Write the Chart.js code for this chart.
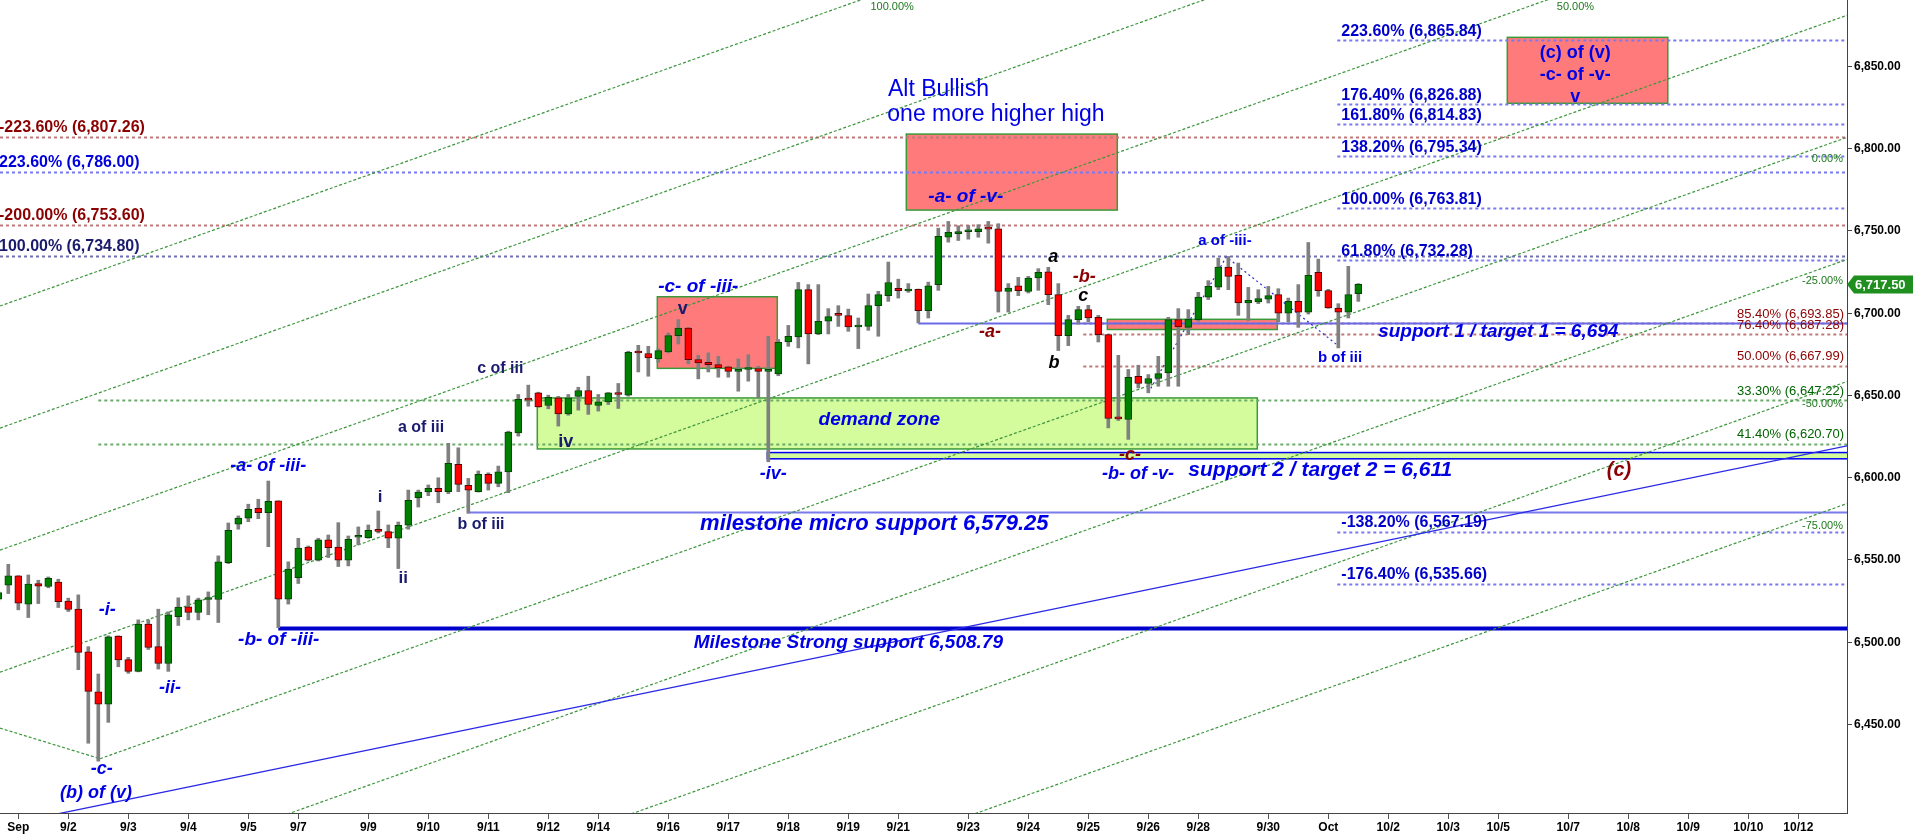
<!DOCTYPE html>
<html><head><meta charset="utf-8">
<script src="https://cdn.jsdelivr.net/npm/chart.js@4.4.1/dist/chart.umd.min.js"></script>
<style>html,body{margin:0;padding:0;background:#fff;overflow:hidden}</style>
</head><body>
<canvas id="c" width="1914" height="837"></canvas>
<script>
// ---------- DATA ----------
const firstBar = -1; // bar index of first candle (4-hour bars)
const opens = [6526.2,6534.7,6540.3,6523.2,6535.7,6533.9,6536.5,6525.0,6520.1,6494.2,6469.9,6462.3,6503.7,6489.4,6482.3,6511.0,6497.3,6487.1,6515.6,6521.5,6518.1,6526.0,6526.0,6548.4,6571.7,6575.4,6581.4,6578.8,6585.9,6526.2,6539.3,6557.9,6549.9,6562.2,6557.9,6549.9,6563.8,6563.6,6568.1,6567.2,6563.2,6571.1,6587.9,6591.3,6593.6,6591.5,6608.1,6595.4,6591.5,6602.1,6596.6,6603.6,6627.3,6647.6,6651.6,6643.9,6648.5,6638.8,6649.4,6653.0,6643.9,6646.1,6651.6,6650.2,6676.3,6675.5,6672.2,6676.5,6686.4,6691.0,6671.8,6670.2,6668.8,6667.4,6664.7,6665.8,6666.4,6664.7,6663.1,6682.5,6685.6,6714.3,6687.4,6695.1,6699.1,6698.5,6691.6,6692.0,6704.6,6710.7,6715.1,6713.5,6714.5,6701.6,6717.4,6746.2,6748.3,6749.5,6749.5,6751.4,6751.3,6713.3,6716.7,6713.3,6721.4,6725.2,6711.3,6686.4,6696.1,6702.2,6697.5,6687.0,6636.2,6635.4,6661.7,6657.3,6660.3,6663.7,6696.1,6691.4,6696.1,6709.8,6715.9,6728.0,6723.0,6706.2,6706.8,6708.6,6711.3,6700.1,6707.2,6700.7,6724.8,6713.7,6703.2,6700.7,6711.9];
const highs = [6531.0,6547.4,6540.5,6540.9,6537.7,6539.7,6538.3,6526.8,6528.8,6497.3,6480.7,6503.9,6503.9,6490.8,6513.6,6513.5,6520.1,6518.5,6527.0,6528.2,6526.8,6530.6,6552.5,6572.5,6576.8,6583.9,6586.9,6598.0,6586.0,6548.9,6563.2,6558.5,6563.2,6565.2,6572.7,6564.6,6570.1,6571.3,6579.8,6571.3,6573.1,6592.5,6592.5,6595.6,6600.0,6620.9,6618.2,6599.6,6604.1,6603.0,6607.1,6628.3,6650.6,6656.3,6652.0,6650.2,6649.5,6650.6,6655.0,6661.7,6650.6,6651.8,6657.3,6676.9,6680.5,6679.9,6678.3,6688.0,6696.1,6691.4,6674.4,6675.9,6673.8,6667.8,6672.2,6674.8,6667.8,6686.0,6684.0,6692.6,6718.7,6717.4,6717.4,6702.8,6704.6,6702.5,6697.1,6711.7,6713.3,6731.1,6720.7,6718.0,6714.7,6718.9,6751.7,6755.8,6753.2,6753.3,6753.8,6755.8,6754.4,6718.0,6721.8,6722.4,6727.1,6727.9,6718.0,6698.7,6704.2,6704.8,6698.7,6687.2,6674.4,6665.8,6668.4,6662.7,6673.8,6697.5,6702.8,6702.2,6712.7,6719.8,6733.5,6734.5,6730.5,6715.7,6714.3,6716.3,6714.9,6709.2,6717.4,6743.0,6732.9,6714.5,6705.8,6728.5,6718.0];
const lows = [6525.0,6529.6,6519.7,6515.0,6523.5,6533.1,6521.1,6518.7,6483.3,6438.6,6427.7,6451.3,6485.1,6481.1,6482.0,6495.6,6483.7,6482.3,6510.2,6513.6,6513.6,6516.7,6512.0,6547.8,6568.7,6573.3,6575.1,6558.1,6508.8,6523.2,6535.7,6549.4,6549.4,6551.5,6546.0,6546.4,6559.2,6563.2,6566.4,6557.5,6544.8,6568.7,6582.2,6589.1,6584.8,6590.3,6591.5,6578.4,6591.3,6592.5,6594.5,6590.9,6625.3,6643.5,6642.8,6641.9,6631.4,6638.0,6641.1,6638.5,6640.5,6644.5,6642.1,6649.6,6664.3,6661.7,6670.2,6675.9,6681.3,6669.2,6660.1,6664.3,6661.1,6661.1,6652.6,6658.7,6648.5,6609.7,6662.0,6679.9,6678.9,6669.2,6687.0,6687.4,6692.0,6689.0,6678.5,6689.6,6686.0,6707.2,6709.2,6712.7,6694.1,6697.1,6713.9,6743.2,6744.2,6745.0,6746.2,6742.6,6700.7,6700.7,6710.7,6712.3,6713.9,6705.2,6677.3,6680.3,6693.4,6694.7,6682.5,6630.3,6634.8,6623.3,6654.6,6651.6,6655.6,6655.6,6655.6,6687.0,6695.1,6708.3,6714.3,6714.3,6698.7,6695.5,6705.8,6706.2,6694.7,6694.7,6691.4,6699.5,6710.3,6703.0,6678.9,6697.1,6707.2];
const closes = [6530.2,6540.3,6523.8,6535.3,6534.1,6538.9,6524.7,6519.9,6493.8,6470.1,6462.3,6503.3,6489.2,6482.3,6511.0,6496.8,6487.1,6516.7,6521.4,6518.1,6525.8,6526.4,6548.9,6568.1,6575.4,6580.8,6578.8,6585.7,6526.2,6544.4,6557.2,6549.9,6562.2,6557.5,6549.9,6562.6,6564.2,6568.1,6567.4,6563.2,6571.1,6586.3,6591.3,6593.6,6591.5,6608.7,6596.0,6592.4,6602.1,6596.6,6603.6,6627.7,6647.6,6647.2,6643.1,6648.9,6638.8,6648.5,6653.0,6644.5,6646.1,6651.6,6650.6,6676.3,6675.8,6672.8,6677.3,6686.4,6691.0,6671.8,6669.8,6668.8,6666.7,6664.7,6665.8,6666.7,6664.7,6664.9,6682.3,6686.0,6714.3,6687.4,6695.1,6697.9,6698.7,6691.6,6692.0,6704.6,6711.3,6718.7,6713.7,6713.9,6701.6,6716.7,6746.7,6749.1,6749.7,6749.8,6751.3,6751.1,6713.3,6715.3,6713.7,6721.4,6724.8,6711.3,6686.4,6696.1,6702.2,6697.1,6687.0,6636.0,6635.8,6661.1,6657.3,6660.3,6663.3,6696.1,6691.6,6696.5,6709.8,6716.3,6728.0,6722.4,6706.2,6707.8,6708.9,6710.7,6700.1,6707.2,6700.7,6723.0,6713.7,6703.2,6700.7,6711.3,6717.5];
const xTickPos = [1,6,12,18,24,29,36,42,48,54,59,66,72,78,84,89,96,102,108,114,119,126,132,138,144,149,156,162,168,174,179];
const xTickLabels = ['Sep','9/2','9/3','9/4','9/5','9/7','9/9','9/10','9/11','9/12','9/14','9/16','9/17','9/18','9/19','9/21','9/23','9/24','9/25','9/26','9/28','9/30','Oct','10/2','10/3','10/5','10/7','10/8','10/9','10/10','10/12'];
const yTickVals = [6450,6500,6550,6600,6650,6700,6750,6800,6850];
const lastPrice = 6717.50;

// Fibonacci / level lines
const leftFibLevels = [6807.26,6786.00,6753.60,6734.80];
const leftFibLabels = ['-223.60% (6,807.26)','223.60% (6,786.00)','-200.00% (6,753.60)','100.00% (6,734.80)'];
const blueFibLevels = [6865.84,6826.88,6814.83,6795.34,6763.81,6732.28,6567.19,6535.66];
const blueFibLabels = ['223.60% (6,865.84)','176.40% (6,826.88)','161.80% (6,814.83)','138.20% (6,795.34)','100.00% (6,763.81)','61.80% (6,732.28)','-138.20% (6,567.19)','-176.40% (6,535.66)'];
const redFibLevels = [6693.85,6687.28,6667.99];
const redFibLabels = ['85.40% (6,693.85)','76.40% (6,687.28)','50.00% (6,667.99)'];
const greenFibLevels = [6647.22,6620.70];
const greenFibLabels = ['33.30% (6,647.22)','41.40% (6,620.70)'];
const supportLevels = [6694, 6579.25, 6508.79];
const pitchforkPct = [100,75,50,25,0,-25,-50,-75];

// ---------- LAYOUT CONSTANTS ----------
const FONT = '"Liberation Sans", Arial, sans-serif';
const xMin = -0.83, xMax = 183.87, yMin = 6396.2, yMax = 6890.4;
const BLUE = '#0000e6', NAVY = '#1a1a6e', DRED = '#8b0000';

const bodyData = [], wickData = [], bodyFill = [], bodyBorder = [];
opens.forEach((o, i) => {
  const k = firstBar + i, c = closes[i];
  bodyData.push({x: k, y: [o, c]});
  wickData.push({x: k, y: [lows[i], highs[i]]});
  const up = c >= o;
  bodyFill.push(up ? '#008000' : '#ff0000');
  bodyBorder.push(up ? '#004400' : '#5a0000');
});

const boxes = [
  {k1:52.9, k2:124.9, v1:6617.5, v2:6648.5, fill:'#d4fc9c', stroke:'#3a9a3a', lw:1.5},
  {k1:75.9, k2:null, v1:6611.5, v2:6615.3, fill:'#d4fc9c', stroke:'#0000ee', lw:1.5},
  {k1:64.9, k2:76.9, v1:6666.5, v2:6710.0, fill:'#ff7b7b', stroke:'#3a9a3a', lw:1.5},
  {k1:89.8, k2:110.9, v1:6762.7, v2:6808.9, fill:'#ff7b7b', stroke:'#3a9a3a', lw:1.5},
  {k1:149.9, k2:165.95, v1:6827.6, v2:6867.7, fill:'#ff7b7b', stroke:'#3a9a3a', lw:1.5},
  {k1:109.9, k2:126.9, v1:6690.1, v2:6696.3, fill:'#ff7b7b', stroke:'#3a9a3a', lw:1.5}
];

const italicB = s => `italic bold ${s}px ${FONT}`;
const bold = s => `bold ${s}px ${FONT}`;
const texts = [
  ['-c-', 9.34, 6422.7, italicB(18), BLUE],
  ['(b) of (v)', 8.77, 6408.1, italicB(18), BLUE],
  ['-i-', 9.9, 6519.6, italicB(18), BLUE],
  ['-ii-', 16.17, 6472.0, italicB(18), BLUE],
  ['-a- of -iii-', 26.0, 6607.1, italicB(18), BLUE],
  ['-b- of -iii-', 27.04, 6501.3, italicB(19), BLUE],
  ['i', 37.17, 6588.1, bold(17), NAVY],
  ['ii', 39.5, 6538.9, bold(17), NAVY],
  ['a of iii', 41.27, 6630.6, bold(16), NAVY],
  ['b of iii', 47.27, 6571.7, bold(16), NAVY],
  ['c of iii', 49.2, 6666.3, bold(16), NAVY],
  ['iv', 55.74, 6621.9, bold(18), NAVY],
  ['v', 67.44, 6702.4, bold(18), NAVY],
  ['-c- of -iii-', 69.0, 6716.1, italicB(19), BLUE],
  ['-iv-', 76.5, 6602.3, italicB(18), BLUE],
  ['-a- of -v-', 95.75, 6770.8, italicB(19), BLUE],
  ['-a-', 98.17, 6688.8, italicB(18), DRED],
  ['a', 104.5, 6734.0, italicB(18), '#000'],
  ['b', 104.57, 6669.5, italicB(18), '#000'],
  ['c', 107.5, 6710.6, italicB(18), '#000'],
  ['-b-', 107.6, 6721.8, italicB(18), DRED],
  ['-c-', 112.17, 6613.8, italicB(18), DRED],
  ['-b- of -v-', 112.97, 6602.3, italicB(18), BLUE],
  ['a of -iii-', 121.67, 6743.9, bold(15), BLUE],
  ['b of iii', 133.17, 6672.6, bold(15), BLUE],
  ['(c)', 161.07, 6604.7, italicB(20), DRED],
  ['demand zone', 87.1, 6635.1, italicB(19), BLUE],
  ['milestone micro support 6,579.25', 86.6, 6571.9, italicB(22), BLUE],
  ['Milestone Strong support 6,508.79', 84.0, 6499.5, italicB(19), BLUE],
  ['support 1 / target 1 = 6,694', 149.0, 6688.8, italicB(19), BLUE],
  ['support 2 / target 2 = 6,611', 131.2, 6604.7, italicB(21), BLUE],
  ['(c) of (v)', 156.7, 6858.0, bold(18), BLUE],
  ['-c- of -v-', 156.7, 6844.8, bold(18), BLUE],
  ['v', 156.7, 6831.6, bold(18), BLUE]
];

const annot = {
  id: 'annot',
  beforeDatasetsDraw(chart) {
    const {ctx, chartArea: a, scales: {x, y}} = chart;
    const X = v => x.getPixelForValue(v), Y = v => y.getPixelForValue(v);
    ctx.save();
    ctx.beginPath(); ctx.rect(a.left, a.top, a.right - a.left, a.bottom - a.top); ctx.clip();
    boxes.forEach(b => {
      const x1 = X(b.k1), x2 = b.k2 == null ? a.right + 2 : X(b.k2);
      const y1 = Y(b.v2), y2 = Y(b.v1);
      ctx.fillStyle = b.fill; ctx.fillRect(x1, y1, x2 - x1, y2 - y1);
      ctx.strokeStyle = b.stroke; ctx.lineWidth = b.lw; ctx.strokeRect(x1, y1, x2 - x1, y2 - y1);
    });
    const hline = (v, k1, color, lw, dash) => {
      ctx.beginPath(); ctx.setLineDash(dash); ctx.strokeStyle = color; ctx.lineWidth = lw;
      const yy = Math.round(Y(v)) + 0.5;
      ctx.moveTo(k1 == null ? a.left : X(k1), yy); ctx.lineTo(a.right, yy); ctx.stroke();
    };
    const leftCols = ['#c07878','#7878f0','#c07878','#7070b0'];
    leftFibLevels.forEach((v, i) => hline(v, null, leftCols[i], 2, [3,3]));
    blueFibLevels.forEach(v => hline(v, 132.9, '#7878f0', 2, [3,3]));
    redFibLevels.forEach(v => hline(v, 107.5, '#c07878', 2, [3,3]));
    greenFibLevels.forEach(v => hline(v, 9, '#6aaa6a', 2, [3,3]));
    hline(supportLevels[0], 91, '#6a6ae8', 2, []);
    hline(supportLevels[1], 46, '#7a7aec', 2, []);
    hline(supportLevels[2], 27, '#0000cc', 4, []);
    // pitchfork (median from -c- pivot)
    const pk = 9.17, pv = 6429.2, slope = 2.162, step = 74.2;
    ctx.setLineDash([3,2]); ctx.strokeStyle = '#3c963c'; ctx.lineWidth = 1.2;
    pitchforkPct.forEach(p => {
      const off = p / 25 * step;
      const k0 = p === 0 ? pk : xMin;
      ctx.beginPath();
      ctx.moveTo(X(k0), Y(pv + off + slope * (k0 - pk)));
      ctx.lineTo(X(xMax), Y(pv + off + slope * (xMax - pk)));
      ctx.stroke();
    });
    ctx.beginPath(); ctx.moveTo(X(xMin), Y(6447.8)); ctx.lineTo(X(pk), Y(pv)); ctx.stroke();
    // blue trend line
    ctx.setLineDash([]); ctx.strokeStyle = '#2a2ae6'; ctx.lineWidth = 1.3;
    ctx.beginPath(); ctx.moveTo(X(0), Y(6551.0 - 1.25 * 129.2)); ctx.lineTo(X(xMax), Y(6551.0 + 1.25 * (xMax - 129.2))); ctx.stroke();
    // wave connector (dotted)
    ctx.setLineDash([2,3]); ctx.strokeStyle = '#2a2ae6'; ctx.lineWidth = 1.2;
    ctx.beginPath(); ctx.moveTo(X(114), Y(6651.7)); ctx.lineTo(X(121.8), Y(6734.3)); ctx.lineTo(X(133), Y(6680.2)); ctx.stroke();
    ctx.restore();
  },
  afterDatasetsDraw(chart) {
    const {ctx, chartArea: a, scales: {x, y}} = chart;
    const X = v => x.getPixelForValue(v), Y = v => y.getPixelForValue(v);
    ctx.save();
    ctx.beginPath(); ctx.rect(a.left, a.top, a.right - a.left, a.bottom - a.top); ctx.clip();
    ctx.textBaseline = 'middle';
    const leftTxt = [DRED, '#0000dd', DRED, NAVY];
    ctx.font = bold(16); ctx.textAlign = 'left';
    leftFibLevels.forEach((v, i) => { ctx.fillStyle = leftTxt[i]; ctx.fillText(leftFibLabels[i], -1, Y(v) - 9); });
    ctx.fillStyle = '#0000cc';
    blueFibLevels.forEach((v, i) => ctx.fillText(blueFibLabels[i], X(133.3), Y(v) - 9));
    ctx.font = `13px ${FONT}`; ctx.textAlign = 'right';
    ctx.fillStyle = DRED;
    redFibLevels.forEach((v, i) => ctx.fillText(redFibLabels[i], a.right - 3, Y(v) - 9));
    ctx.fillStyle = '#006400';
    greenFibLevels.forEach((v, i) => ctx.fillText(greenFibLabels[i], a.right - 3, Y(v) - 9));
    const pk = 9.17, pv = 6429.2, slope = 2.162, step = 74.2;
    ctx.font = `11px ${FONT}`; ctx.fillStyle = '#1e781e';
    pitchforkPct.forEach(p => {
      const off = p / 25 * step;
      const lab = p.toFixed(2) + '%';
      if (p === 100 || p === 50) {
        const kt = pk + (yMax - pv - off) / slope;
        ctx.textAlign = 'left'; ctx.fillText(lab, X(kt) + 10, a.top + 7);
      } else if (p <= 0) {
        const ye = Y(pv + off + slope * (xMax - pk));
        ctx.textAlign = 'right'; ctx.fillText(lab, a.right - 4, ye + 22);
      }
    });
    ctx.textAlign = 'center';
    texts.forEach(t => { ctx.font = t[3]; ctx.fillStyle = t[4]; ctx.fillText(t[0], X(t[1]), Y(t[2])); });
    ctx.font = `23px ${FONT}`; ctx.fillStyle = BLUE; ctx.textAlign = 'left';
    ctx.fillText('Alt Bullish', X(87.97), Y(6835.7));
    ctx.fillText('one more higher high', X(87.9), Y(6820.8));
    ctx.restore();
  },
  afterDraw(chart) {
    const {ctx, chartArea: a, scales: {y}} = chart;
    const yy = y.getPixelForValue(lastPrice);
    ctx.save();
    ctx.fillStyle = '#1f8f1f';
    ctx.beginPath();
    ctx.moveTo(a.right, yy); ctx.lineTo(a.right + 7, yy - 9); ctx.lineTo(1913, yy - 9);
    ctx.lineTo(1913, yy + 9); ctx.lineTo(a.right + 7, yy + 9); ctx.closePath(); ctx.fill();
    ctx.fillStyle = '#fff'; ctx.font = bold(13); ctx.textAlign = 'left'; ctx.textBaseline = 'middle';
    ctx.fillText(lastPrice.toLocaleString('en-US', {minimumFractionDigits: 2}), a.right + 8, yy + 1);
    ctx.restore();
  }
};

const noPad = s => { s.paddingTop = 0; s.paddingBottom = 0; s.paddingLeft = 0; s.paddingRight = 0; };

new Chart(document.getElementById('c'), {
  type: 'bar',
  data: {
    datasets: [
      {data: bodyData, backgroundColor: bodyFill, borderColor: bodyBorder, borderWidth: 1, borderSkipped: false,
       barThickness: 7, grouped: false, minBarLength: 2, order: 1},
      {data: wickData, backgroundColor: '#808080', borderWidth: 0, barThickness: 3, grouped: false, order: 2}
    ]
  },
  options: {
    responsive: false, animation: false, devicePixelRatio: 1,
    layout: {padding: 0},
    plugins: {legend: {display: false}, tooltip: {enabled: false}},
    scales: {
      x: {
        type: 'linear', min: xMin, max: xMax, offset: false,
        grid: {display: true, drawOnChartArea: false, drawTicks: true, tickLength: 6, color: '#555', offset: false},
        border: {display: true, color: '#444', width: 1},
        ticks: {autoSkip: false, maxRotation: 0, minRotation: 0, padding: 1, color: '#000',
          font: {family: FONT, size: 12, weight: 'bold'},
          callback: v => { const i = xTickPos.indexOf(v); return i >= 0 ? xTickLabels[i] : ''; }},
        afterBuildTicks: s => { s.ticks = xTickPos.map(v => ({value: v})); },
        afterFit: s => { s.height = 24; noPad(s); }
      },
      y: {
        type: 'linear', position: 'right', min: yMin, max: yMax,
        grid: {display: true, drawOnChartArea: false, drawTicks: true, tickLength: 5, color: '#444'},
        border: {display: true, color: '#444', width: 1},
        ticks: {padding: 2, color: '#000', font: {family: FONT, size: 12, weight: 'bold'},
          callback: v => v.toLocaleString('en-US', {minimumFractionDigits: 2, maximumFractionDigits: 2})},
        afterBuildTicks: s => { s.ticks = yTickVals.map(v => ({value: v})); },
        afterFit: s => { s.width = 67; noPad(s); }
      }
    }
  },
  plugins: [annot]
});
</script>
</body></html>
